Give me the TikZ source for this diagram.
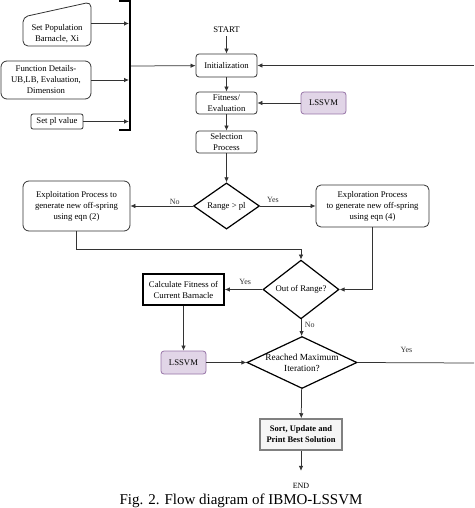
\documentclass[tikz,border=0pt]{standalone}
\usepackage{fontspec}
\setmainfont{Liberation Serif}
\usetikzlibrary{shapes.geometric,arrows.meta}

\definecolor{svmfill}{HTML}{E1D5E7}
\definecolor{svmdraw}{HTML}{9673A6}
\definecolor{sortfill}{HTML}{F5F5F5}
\definecolor{sortdraw}{HTML}{808080}

\begin{document}
\begin{tikzpicture}[x=1pt, y=-1pt, >={Latex[length=5pt,width=4.5pt]},
                        every node/.style={font=\fontsize{8.7}{11}\selectfont, align=center},
                        box/.style={rectangle, rounded corners=3pt, draw=black!80, line width=0.8pt, inner sep=1pt},
                        decision/.style={diamond, draw=black, line width=1.2pt, inner sep=0pt},
                        svm/.style={box, draw=svmdraw, fill=svmfill},
                        tag/.style={inner sep=1pt, font=\fontsize{8}{9}\selectfont},
                        every edge/.style={draw, black!80, line width=0.75pt}]

                        \useasboundingbox (0,0) rectangle (474,508);

                        % Inputs on the left
                        \draw[rounded corners=5pt, line width=0.8pt, black!80] (57,46) -- (23,46) -- (23,17) -- (91,2) -- (91,46) -- cycle;
                        \node (pop) at (57,34) {Set Population\\Barnacle, Xi}; % Manual input
                        \coordinate (pop e) at (91,23.5);
                        \node[box, rounded corners=6pt, minimum width=90pt, minimum height=38pt] (func) at (46,80) {Function Details-\\UB,LB, Evaluation,\\Dimension};
                        \node[box, rounded corners=2pt, minimum width=52pt, minimum height=15pt] (setpl) at (57,121.5) {Set pl value};

                        % Bracket joining the inputs
                        \draw[line width=1.8pt] (119,1) -- (130,1) -- (130,130) -- (119,130);
                        \coordinate (b1) at (129,23.5);
                        \coordinate (b2) at (129,80);
                        \coordinate (b3) at (129,121.5);
                        \coordinate (bout) at (131,66);

                        % Main column
                        \node (start) at (226.5,30) {START};
                        \node[box, minimum width=61pt, minimum height=23pt] (init) at (226.5,65.5) {Initialization};
                        \node[box, minimum width=61pt, minimum height=22pt] (fit) at (226.5,103) {Fitness/\\Evaluation};
                        \node[box, minimum width=61pt, minimum height=22pt] (sel) at (226.5,142) {Selection\\Process};
                        \node[svm, minimum width=45pt, minimum height=22pt] (svm1) at (323.5,103) {LSSVM};
                        \node[decision, minimum width=66pt, minimum height=46pt] (range) at (226.5,206) {Range > pl};
                        \node[box, rounded corners=6pt, minimum width=107pt, minimum height=50pt] (explt) at (76.5,206) {Exploitation Process to\\generate new off-spring\\using eqn (2)};
                        \node[box, rounded corners=5pt, minimum width=113pt, minimum height=42pt] (explr) at (372.5,206) {Exploration Process\\to generate new off-spring\\using eqn (4)};
                        \node[decision, minimum width=76pt, minimum height=45pt] (oor) at (301,289.5) {Out of Range?};
                        \node[rectangle, draw=black, line width=1.6pt, minimum width=81pt, minimum height=31pt, inner sep=1pt] (calc) at (183.5,289.5) {Calculate Fitness of\\Current Barnacle};
                        \node[svm, minimum width=45pt, minimum height=23pt] (svm2) at (183.5,362.5) {LSSVM};
                        \node[decision, minimum width=110pt, minimum height=52pt,
                              label={[font=\fontsize{9.3}{11}\selectfont, align=center]center:Reached Maximum\\Iteration?}] (iter) at (302,362.5) {};
                        \node[rectangle, draw=sortdraw, fill=sortfill, line width=1.5pt, minimum width=82pt, minimum height=31pt, inner sep=1pt,
                              font=\bfseries\fontsize{8.5}{11}\selectfont] (sort) at (301,434.5) {Sort, Update and\\Print Best Solution};
                        \node[font=\fontsize{8}{9}\selectfont] (end) at (301,486) {END};
                        \coordinate (loopin) at (474,65.5);
                        \coordinate (loopout) at (474,363);

                        \node[font=\fontsize{15}{18}\selectfont, anchor=base] (caption) at (241,504) {Fig. 2. Flow diagram of IBMO-LSSVM};

                        % Connectors
                        \path [->](pop e) edge (b1);
                        \path [->](func) edge (b2);
                        \path [->](setpl) edge (b3);
                        \path [->](bout) edge (init);
                        \path [->](loopin) edge (init);
                        \path [->](start) edge (init);
                        \path [->](init) edge (fit);
                        \path [->](fit) edge (sel);
                        \path [->](svm1) edge (fit);
                        \path [->](sel) edge (range);
                        \path [->](range) edge node[tag, pos=0.29, above] {No} (explt);
                        \path [->](range) edge node[tag, pos=0.23, above=2pt] {Yes} (explr);
                        \draw [->, black!80, line width=0.75pt] (explt.south) -- ++(0,18) -| (oor.north);
                        \draw [->, black!80, line width=0.75pt] (explr.south) |- (oor.east);
                        \path [->](oor) edge node[tag, pos=0.46, above=4pt] {Yes} (calc);
                        \path [->](oor) edge node[tag, pos=0.33, right=2pt] {No} (iter);
                        \path [->](calc) edge (svm2);
                        \path [->](svm2) edge (iter);
                        \path (iter.east) edge node[tag, pos=0.42, above=9pt] {Yes} (loopout);
                        \path [->](iter) edge (sort);
                        \path [->, shorten >=9pt](sort) edge (end);
                        \end{tikzpicture}
\end{document}
